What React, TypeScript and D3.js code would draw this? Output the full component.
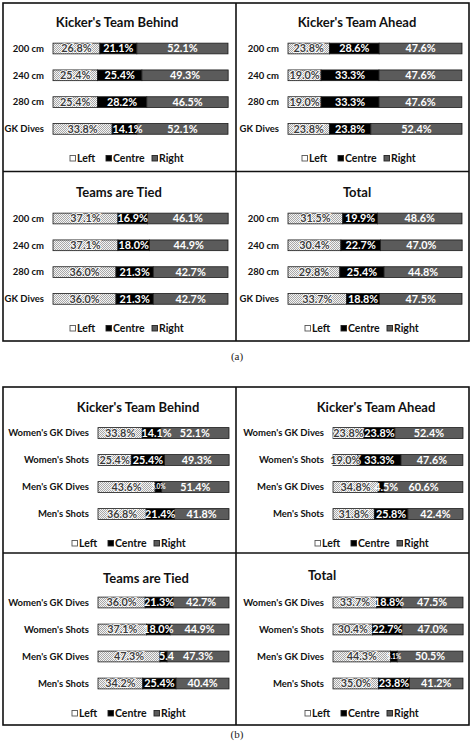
import React from 'react';
import * as d3 from 'd3';

// row categories
const distanceRows = ['200 cm', '240 cm', '280 cm', 'GK Dives'];
const genderRows = ["Women's GK Dives", "Women's Shots", "Men's GK Dives", "Men's Shots"];
const directions = ['Left', 'Centre', 'Right'];

// (a) by distance, each row is [left, centre, right] in %
const behindA = [[26.8, 21.1, 52.1], [25.4, 25.4, 49.3], [25.4, 28.2, 46.5], [33.8, 14.1, 52.1]];
const aheadA = [[23.8, 28.6, 47.6], [19.0, 33.3, 47.6], [19.0, 33.3, 47.6], [23.8, 23.8, 52.4]];
const tiedA = [[37.1, 16.9, 46.1], [37.1, 18.0, 44.9], [36.0, 21.3, 42.7], [36.0, 21.3, 42.7]];
const totalA = [[31.5, 19.9, 48.6], [30.4, 22.7, 47.0], [29.8, 25.4, 44.8], [33.7, 18.8, 47.5]];

// (b) by gender
const behindB = [[33.8, 14.1, 52.1], [25.4, 25.4, 49.3], [43.6, 5.0, 51.4], [36.8, 21.4, 41.8]];
const aheadB = [[23.8, 23.8, 52.4], [19.0, 33.3, 47.6], [34.8, 4.5, 60.6], [31.8, 25.8, 42.4]];
const tiedB = [[36.0, 21.3, 42.7], [37.1, 18.0, 44.9], [47.3, 5.4, 47.3], [34.2, 25.4, 40.4]];
const totalB = [[33.7, 18.8, 47.5], [30.4, 22.7, 47.0], [44.3, 5.1, 50.5], [35.0, 23.8, 41.2]];

// label quirks from the original
const labelOverrides: Record<string, string> = { 'tiedB-2-1': '5.4' };
const tinyLabels = new Set(['behindB-2-1', 'totalB-2-1']);
// labels in thin segments sit a little to the right, as in the original
const labelNudge: Record<string, number> = { 'behindB-0-1': 5, 'aheadB-2-1': 5, 'tiedB-2-1': 3, 'behindA-3-1': 3 };

const FONT = 'Lato, "Open Sans", sans-serif';
const fills = ['url(#dots)', '#000000', '#5b5b5b'];
const labelFills = ['#3a3a3a', '#ffffff', '#ffffff'];
const legendOffsets = [0, 36, 82];

const panels = [
  { id: 'behindA', title: "Kicker's Team Behind", rows: distanceRows, values: behindA, x: [53, 228], y: [35.1, 142.3], tx: 117, ty: 27, lx: 70, ly: 162 },
  { id: 'aheadA', title: "Kicker's Team Ahead", rows: distanceRows, values: aheadA, x: [288, 462], y: [35.1, 142.3], tx: 357, ty: 27, lx: 302, ly: 162 },
  { id: 'tiedA', title: 'Teams are Tied', rows: distanceRows, values: tiedA, x: [53, 228], y: [205.1, 312.3], tx: 119, ty: 197, lx: 70, ly: 332 },
  { id: 'totalA', title: 'Total', rows: distanceRows, values: totalA, x: [288, 462], y: [205.1, 312.3], tx: 357, ty: 197, lx: 305, ly: 332 },
  { id: 'behindB', title: "Kicker's Team Behind", rows: genderRows, values: behindB, x: [98, 229], y: [419.5, 527.5], tx: 138, ty: 412, lx: 72, ly: 547 },
  { id: 'aheadB', title: "Kicker's Team Ahead", rows: genderRows, values: aheadB, x: [333, 463], y: [419.5, 527.5], tx: 376, ty: 412, lx: 315, ly: 547 },
  { id: 'tiedB', title: 'Teams are Tied', rows: genderRows, values: tiedB, x: [98, 229], y: [589, 697], tx: 146, ty: 583, lx: 72, ly: 717 },
  { id: 'totalB', title: 'Total', rows: genderRows, values: totalB, x: [333, 463], y: [589, 697], tx: 322, ty: 580, lx: 305, ly: 717 },
];

const Panel = ({ p }: { p: (typeof panels)[number] }) => {
  const x = d3.scaleLinear().domain([0, 100]).range(p.x);
  const y = d3.scaleBand().domain(p.rows).range(p.y).paddingInner(0.6).paddingOuter(0.3);
  const stack = d3.stack<number[]>().keys(['0', '1', '2']).value((d, k) => d[+k]);
  const series = stack(p.values);

  // flatten segments so that every bar is drawn before any label
  const segs = series.flatMap((s, si) =>
    s.map((d, ri) => ({ si, ri, x0: x(d[0]), x1: x(d[1]), key: `${p.id}-${ri}-${si}` }))
  );

  return (
    <g>
      <text x={p.tx} y={p.ty} textAnchor="middle" fontFamily={FONT} fontWeight="bold" fontSize={13} fill="#111">
        {p.title}
      </text>
      {p.rows.map((r) => (
        <text key={r} x={p.x[0] - 9} y={y(r)! + y.bandwidth() / 2} dy="0.35em" textAnchor="end"
          fontFamily={FONT} fontWeight="bold" fontSize={9.5} fill="#111">
          {r}
        </text>
      ))}
      {segs.map((g) => (
        <rect key={g.key} x={g.x0} y={y(p.rows[g.ri])} width={g.x1 - g.x0} height={y.bandwidth()}
          fill={fills[g.si]} stroke="#1a1a1a" strokeWidth={0.8} />
      ))}
      {segs.map((g) => {
        const tiny = tinyLabels.has(g.key);
        const label = labelOverrides[g.key] ?? `${p.values[g.ri][g.si].toFixed(1)}%`;
        const cy = y(p.rows[g.ri])! + y.bandwidth() / 2;
        return (
          <text key={g.key} x={(g.x0 + g.x1) / 2 + (labelNudge[g.key] ?? 0)} y={cy} dy="0.36em"
            textAnchor="middle" fontFamily={FONT}
            fontWeight="bold" fontSize={tiny ? 6.5 : 10.8} fill={labelFills[g.si]}
            stroke={g.si === 0 ? '#ffffff' : 'none'} strokeWidth={g.si === 0 ? 1.6 : 0}
            style={{ paintOrder: 'stroke' }}>
            {label}
          </text>
        );
      })}
      {directions.map((dname, i) => (
        <g key={dname} transform={`translate(${p.lx + legendOffsets[i]},${p.ly})`}>
          <rect x={0} y={-6.5} width={5.5} height={5.5} fill={i === 0 ? '#ffffff' : fills[i]}
            stroke={i === 0 ? '#555' : '#222'} strokeWidth={0.9} />
          <text x={7} y={0} fontFamily={FONT} fontWeight="bold" fontSize={10.5} fill="#111">
            {dname}
          </text>
        </g>
      ))}
    </g>
  );
};

export default function App() {
  return (
    <svg width={474} height={745} style={{ position: 'absolute', left: 0, top: 0, background: '#fff' }}>
      <defs>
        <pattern id="dots" width={2} height={2} patternUnits="userSpaceOnUse">
          <rect width={2} height={2} fill="#f4f4f4" />
          <rect width={1} height={1} fill="#a8a8a8" />
          <rect x={1} y={1} width={1} height={1} fill="#a8a8a8" />
        </pattern>
      </defs>
      {/* frames */}
      <g fill="none" stroke="#111" strokeWidth={1.6}>
        <rect x={3} y={3} width={466} height={338} />
        <line x1={236} x2={236} y1={3} y2={341} />
        <line x1={3} x2={469} y1={171.5} y2={171.5} />
        <rect x={3} y={387} width={466} height={338} />
        <line x1={236} x2={236} y1={387} y2={725} />
        <line x1={3} x2={469} y1={553} y2={553} />
      </g>
      {panels.map((p) => (
        <Panel key={p.id} p={p} />
      ))}
      <text x={237} y={360} textAnchor="middle" fontFamily="'Liberation Serif', serif" fontSize={11} fill="#222">(a)</text>
      <text x={237} y={738} textAnchor="middle" fontFamily="'Liberation Serif', serif" fontSize={11} fill="#222">(b)</text>
    </svg>
  );
}
